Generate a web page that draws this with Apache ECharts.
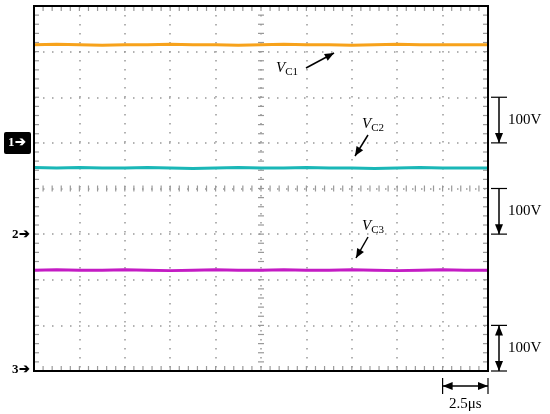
<!DOCTYPE html>
<html><head><meta charset="utf-8">
<script src="https://cdn.jsdelivr.net/npm/echarts@6/dist/echarts.min.js"></script>
<style>html,body{margin:0;background:#fff}#c{width:550px;height:414px}</style>
</head><body><div id="c"></div>
<script>
// 时间轴（格）
var timeDiv = [0,0.5,1,1.5,2,2.5,3,3.5,4,4.5,5,5.5,6,6.5,7,7.5,8,8.5,9,9.5,10];
// 三路波形（纵轴单位：格）
var vc1 = [7.15,7.16,7.15,7.14,7.15,7.15,7.16,7.15,7.15,7.14,7.15,7.16,7.15,7.15,7.14,7.15,7.16,7.15,7.15,7.15,7.15];
var vc2 = [4.46,4.45,4.46,4.45,4.45,4.46,4.45,4.44,4.45,4.46,4.45,4.45,4.46,4.45,4.45,4.44,4.45,4.46,4.45,4.45,4.45];
var vc3 = [2.21,2.22,2.21,2.21,2.22,2.21,2.20,2.21,2.22,2.21,2.21,2.22,2.21,2.21,2.22,2.21,2.20,2.21,2.22,2.21,2.21];
var markers = [['1', 5.0], ['2', 2.98], ['3', 0.02]];

var serif = 'Liberation Serif';
function pts(arr){ return arr.map(function(v,i){ return [timeDiv[i], v]; }); }
function trace(name, arr, color){
  return {name:name,type:'line',data:pts(arr),showSymbol:false,silent:true,
    lineStyle:{color:color,width:3},z:5};
}
var dot = {color:'#999',width:1.5,type:[1.5,7.5]};
var myChart = echarts.init(document.getElementById('c'));
var option = {
  animation:false,
  grid:{left:34,right:62,top:6,bottom:43},
  xAxis:{type:'value',min:0,max:10,interval:1,
    axisLine:{show:false},axisTick:{show:false},axisLabel:{show:false},
    splitLine:{lineStyle:dot}},
  yAxis:{type:'value',min:0,max:8,interval:1,
    axisLine:{show:false},axisTick:{show:false},axisLabel:{show:false},
    splitLine:{lineStyle:dot}},
  series:[
    trace('VC1', vc1, '#f7a21b'),
    trace('VC2', vc2, '#1ab7b7'),
    trace('VC3', vc3, '#c41bc4')
  ]
};
myChart.setOption(option);

var g = [];
function px(x,y){ return myChart.convertToPixel({gridIndex:0},[x,y]); }
var p0 = px(0,0), p1 = px(10,8), c = px(5,4);
// 中心十字及边框上的细分刻度
var tk={stroke:'#999',lineWidth:1.2};
for(var i=1;i<50;i++){
  var x=px(i/5,0)[0];
  g.push({type:'line',shape:{x1:x,y1:c[1]-3,x2:x,y2:c[1]+3},style:tk});
  g.push({type:'line',shape:{x1:x,y1:p1[1]+1,x2:x,y2:p1[1]+5},style:tk});
  g.push({type:'line',shape:{x1:x,y1:p0[1]-1,x2:x,y2:p0[1]-5},style:tk});
}
for(var j=1;j<40;j++){
  var y=px(0,j/5)[1];
  g.push({type:'line',shape:{x1:c[0]-3,y1:y,x2:c[0]+3,y2:y},style:tk});
  g.push({type:'line',shape:{x1:p0[0]+1,y1:y,x2:p0[0]+5,y2:y},style:tk});
  g.push({type:'line',shape:{x1:p1[0]-1,y1:y,x2:p1[0]-5,y2:y},style:tk});
}
g.push({type:'rect',shape:{x:p0[0],y:p1[1],width:p1[0]-p0[0],height:p0[1]-p1[1]},
  style:{fill:'none',stroke:'#000',lineWidth:2},z:10});
// 通道标记
markers.forEach(function(m){
  var y = px(0,m[1])[1];
  if(m[0]==='1'){
    g.push({type:'rect',shape:{x:4,y:y-11,width:27,height:22,r:2},style:{fill:'#000'}});
    g.push({type:'text',style:{text:'1\u2794',x:8,y:y,verticalAlign:'middle',fill:'#fff',font:'bold 13px '+serif}});
  } else {
    g.push({type:'text',style:{text:m[0]+'\u2794',x:12,y:y,verticalAlign:'middle',fill:'#000',font:'bold 13px '+serif}});
  }
});
// 标注
function label(sub,x,y){
  g.push({type:'text',style:{x:x,y:y,verticalAlign:'middle',
    text:'{v|V}{s|'+sub+'}',rich:{v:{font:'italic 15px '+serif,fill:'#000'},
    s:{font:'11px '+serif,fill:'#000',padding:[8,0,0,0]}}}});
}
function arrow(x1,y1,x2,y2){
  g.push({type:'line',shape:{x1:x1,y1:y1,x2:x2,y2:y2},style:{stroke:'#000',lineWidth:1.5}});
  var a=Math.atan2(y2-y1,x2-x1),L=10,w=0.4;
  g.push({type:'polygon',shape:{points:[[x2,y2],[x2-L*Math.cos(a-w),y2-L*Math.sin(a-w)],[x2-L*Math.cos(a+w),y2-L*Math.sin(a+w)]]},style:{fill:'#000'}});
}
label('C1',276,68); arrow(306,68,334,53);
label('C2',362,124); arrow(368,135,355,156);
label('C3',362,226); arrow(368,237,356,258);
// 刻度尺
var xb=499;
function vbar(yA,yB,two){
  g.push({type:'line',shape:{x1:xb-8,y1:yA,x2:xb+8,y2:yA},style:{stroke:'#000',lineWidth:1.2}});
  g.push({type:'line',shape:{x1:xb-8,y1:yB,x2:xb+8,y2:yB},style:{stroke:'#000',lineWidth:1.2}});
  g.push({type:'line',shape:{x1:xb,y1:yA,x2:xb,y2:yB},style:{stroke:'#000',lineWidth:1.5}});
  g.push({type:'polygon',shape:{points:[[xb,yB],[xb-4,yB-10],[xb+4,yB-10]]},style:{fill:'#000'}});
  if(two) g.push({type:'polygon',shape:{points:[[xb,yA],[xb-4,yA+10],[xb+4,yA+10]]},style:{fill:'#000'}});
  g.push({type:'text',style:{text:'100V',x:508,y:(yA+yB)/2,verticalAlign:'middle',fill:'#000',font:'15px '+serif}});
}
function py(v){ return px(0,v)[1]; }
vbar(py(6),py(5),false);
vbar(py(4),py(3),false);
vbar(py(1),py(0),true);
var xa=px(9,0)[0], xe=p1[0], yt=386;
g.push({type:'line',shape:{x1:xa,y1:yt-8,x2:xa,y2:yt+8},style:{stroke:'#000',lineWidth:1.2}});
g.push({type:'line',shape:{x1:xe,y1:yt-8,x2:xe,y2:yt+8},style:{stroke:'#000',lineWidth:1.2}});
g.push({type:'line',shape:{x1:xa,y1:yt,x2:xe,y2:yt},style:{stroke:'#000',lineWidth:1.5}});
g.push({type:'polygon',shape:{points:[[xa,yt],[xa+10,yt-4],[xa+10,yt+4]]},style:{fill:'#000'}});
g.push({type:'polygon',shape:{points:[[xe,yt],[xe-10,yt-4],[xe-10,yt+4]]},style:{fill:'#000'}});
g.push({type:'text',style:{text:'2.5\u03bcs',x:(xa+xe)/2,y:404,align:'center',verticalAlign:'middle',fill:'#000',font:'15px '+serif}});
myChart.setOption({graphic:g});
</script></body></html>
